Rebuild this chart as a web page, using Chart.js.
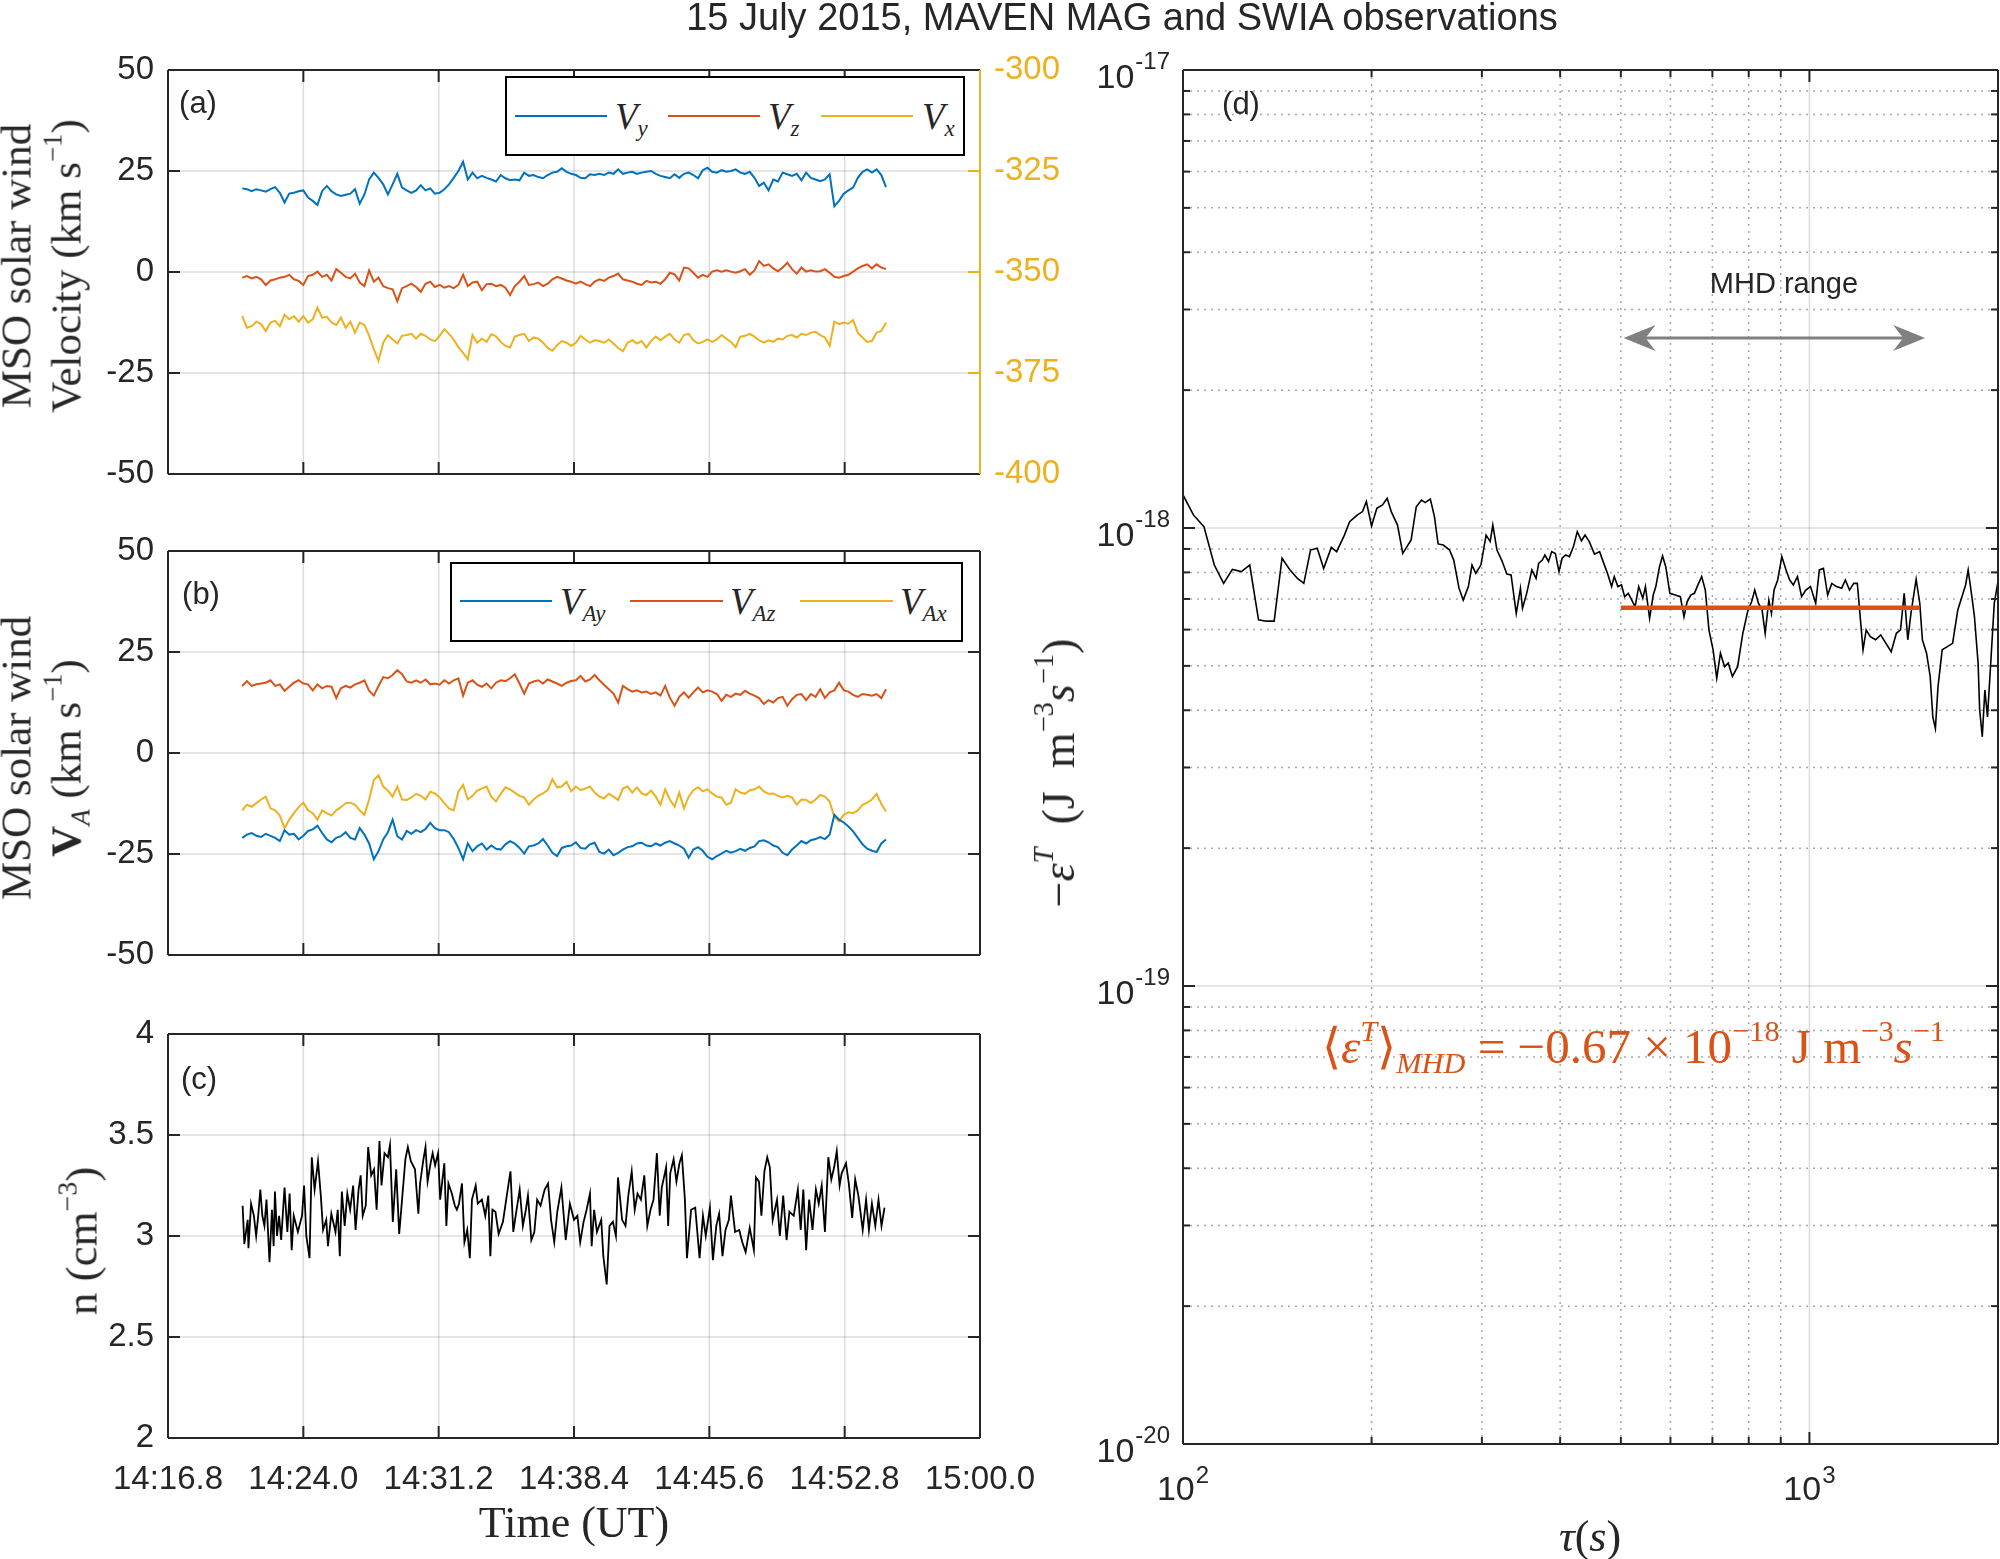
<!DOCTYPE html>
<html>
<head>
<meta charset="utf-8">
<title>15 July 2015, MAVEN MAG and SWIA observations</title>
<script src="https://cdn.jsdelivr.net/npm/chart.js@4.4.1/dist/chart.umd.min.js"></script>
<style>
  body { margin: 0; background: #fff; }
  #page { position: relative; width: 2000px; height: 1559px; overflow: hidden; background: #fff; color: #262626; }
  canvas { position: absolute; }
  .t { position: absolute; white-space: nowrap; line-height: 1; }
  .sans { font-family: "Liberation Sans", Arial, sans-serif; }
  .serif { font-family: "Liberation Serif", "Times New Roman", serif; }
  .c { transform: translate(-50%, -50%); }
  .r { transform: translate(-50%, -50%) rotate(-90deg); text-align: center; }
  .l { transform: translateY(-50%); }
  sup, sub { font-size: 0.62em; vertical-align: 0; position: relative; }
  sup { top: -0.72em; }
  sub { top: 0.32em; }
  .box { position: absolute; border: 2px solid #000; background: #fff; box-sizing: border-box; }
  .seg { position: absolute; height: 2px; }
</style>
</head>
<body>
<div id="page">
  <canvas id="velChart" width="1100" height="514" style="left:0;top:0"></canvas>
  <canvas id="alfChart" width="1100" height="485" style="left:0;top:510px"></canvas>
  <canvas id="denChart" width="1100" height="569" style="left:0;top:990px"></canvas>
  <canvas id="epsChart" width="1000" height="1559" style="left:1000px;top:0"></canvas>

  <div class="t sans c" style="left:1122px;top:17px;font-size:38px">15 July 2015, MAVEN MAG and SWIA observations</div>

  <!-- axis titles -->
  <div class="t serif r" style="left:44px;top:266px;font-size:43px;line-height:50px">MSO solar wind<br>Velocity (km s<sup>−1</sup>)</div>
  <div class="t serif r" style="left:44px;top:758px;font-size:43px;line-height:50px">MSO solar wind<br><b>V</b><sub><i>A</i></sub> (km s<sup>−1</sup>)</div>
  <div class="t serif r" style="left:82px;top:1241px;font-size:45px">n (cm<sup>−3</sup>)</div>
  <div class="t serif c" style="left:574px;top:1523px;font-size:44px">Time (UT)</div>
  <div class="t serif r" style="left:1059px;top:773px;font-size:46px">−<i>ε</i><sup><i>T</i></sup>&nbsp; (J&nbsp; m<sup>−3</sup><i>s</i><sup>−1</sup>)</div>
  <div class="t serif c" style="left:1590px;top:1537px;font-size:44px"><i>τ</i>(<i>s</i>)</div>

  <!-- panel labels -->
  <div class="t sans c" style="left:198px;top:102px;font-size:31px">(a)</div>
  <div class="t sans c" style="left:201px;top:593px;font-size:31px">(b)</div>
  <div class="t sans c" style="left:199px;top:1078px;font-size:31px">(c)</div>
  <div class="t sans c" style="left:1241px;top:103px;font-size:31px">(d)</div>

  <!-- legend (a) -->
  <div class="box" style="left:505px;top:76px;width:460px;height:80px"></div>
  <div class="seg" style="left:515px;top:115px;width:92px;background:#0072BD"></div>
  <div class="t serif l" style="left:615px;top:116px;font-size:37px"><i>V<sub>y</sub></i></div>
  <div class="seg" style="left:668px;top:115px;width:92px;background:#D95319"></div>
  <div class="t serif l" style="left:768px;top:116px;font-size:37px"><i>V<sub>z</sub></i></div>
  <div class="seg" style="left:821px;top:115px;width:92px;background:#EDB120"></div>
  <div class="t serif l" style="left:922px;top:116px;font-size:37px"><i>V<sub>x</sub></i></div>

  <!-- legend (b) -->
  <div class="box" style="left:450px;top:562px;width:513px;height:80px"></div>
  <div class="seg" style="left:460px;top:600px;width:92px;background:#0072BD"></div>
  <div class="t serif l" style="left:560px;top:601px;font-size:37px"><i>V<sub>Ay</sub></i></div>
  <div class="seg" style="left:630px;top:600px;width:93px;background:#D95319"></div>
  <div class="t serif l" style="left:730px;top:601px;font-size:37px"><i>V<sub>Az</sub></i></div>
  <div class="seg" style="left:800px;top:600px;width:93px;background:#EDB120"></div>
  <div class="t serif l" style="left:900px;top:601px;font-size:37px"><i>V<sub>Ax</sub></i></div>

  <!-- panel (d) notes -->
  <div class="t sans c" style="left:1784px;top:283px;font-size:29px">MHD range</div>
  <div class="t serif l" style="left:1322px;top:1046px;font-size:49px;color:#D95319">⟨<i>ε</i><sup><i>T</i></sup>⟩<sub><i>MHD</i></sub>&nbsp;=&nbsp;−0.67&nbsp;×&nbsp;10<sup>−18</sup>&nbsp;J&nbsp;m<sup>−3</sup><i>s</i><sup>−1</sup></div>
</div>

<script>
// (a), (b) sample times: minutes after 14:00 UT, one sample every 0.25 min
const sampleStart = 20.75;
const sampleStep = 0.25;

// time axis ticks (minutes after 14:00)
const timeTicks = [16.8, 24.0, 31.2, 38.4, 45.6, 52.8, 60.0];
const timeTickLabels = ["14:16.8", "14:24.0", "14:31.2", "14:38.4", "14:45.6", "14:52.8", "15:00.0"];
const velTicks = [-50, -25, 0, 25, 50];
const vxTicks = [-400, -375, -350, -325, -300];
const denTicks = [2, 2.5, 3, 3.5, 4];

// (a) solar wind velocity, km/s
const vy = [
  20.7, 20.5, 20.0, 20.5, 20.2, 19.9, 20.5, 21.0, 19.6, 17.2,
  19.4, 19.6, 20.0, 20.2, 18.4, 17.6, 16.6, 20.0, 21.3, 20.0,
  19.2, 18.8, 19.1, 19.4, 20.5, 16.9, 19.2, 22.9, 24.6, 23.3,
  21.7, 19.2, 21.7, 24.3, 20.9, 20.2, 19.6, 20.2, 21.5, 20.2,
  20.7, 19.4, 19.6, 20.5, 21.7, 23.3, 25.0, 27.3, 22.9, 24.6,
  23.2, 23.8, 23.3, 22.9, 22.4, 24.0, 23.2, 22.7, 22.9, 22.7,
  24.6, 23.8, 24.0, 23.5, 23.2, 24.0, 24.6, 24.8, 25.7, 24.8,
  24.3, 24.0, 23.3, 23.2, 24.2, 24.0, 24.3, 24.0, 24.6, 24.3,
  25.4, 24.3, 24.6, 24.8, 24.3, 24.6, 24.8, 25.0, 24.3, 23.8,
  23.5, 23.2, 24.2, 23.3, 24.3, 24.6, 24.0, 23.2, 25.2, 25.8,
  24.8, 24.6, 25.2, 24.8, 25.0, 25.4, 24.6, 24.3, 24.8, 23.3,
  21.3, 22.1, 20.2, 22.9, 22.4, 24.6, 24.2, 23.8, 24.3, 22.7,
  24.6, 23.3, 22.9, 22.5, 22.9, 24.2, 16.3, 17.6, 19.4, 20.2,
  20.9, 23.3, 24.8, 25.4, 24.6, 25.4, 24.0, 21.0
];
const vz = [
  -1.4, -1.0, -1.6, -1.2, -1.8, -3.2, -2.1, -1.8, -1.4, -1.2,
  -0.7, -1.8, -2.2, -3.2, -1.0, -0.7, 0.1, -1.2, -0.7, -2.1,
  0.7, -0.2, -1.2, -1.6, -0.4, -2.6, -3.5, 0.4, -2.4, -1.4,
  -3.5, -4.0, -4.3, -7.2, -4.0, -3.5, -2.9, -3.7, -4.9, -2.9,
  -2.4, -3.7, -3.2, -3.9, -3.5, -4.0, -3.2, -0.7, -3.5, -2.6,
  -2.4, -4.5, -3.0, -2.9, -3.5, -3.2, -3.9, -5.7, -3.5, -2.4,
  -1.0, -3.2, -3.0, -2.6, -3.5, -2.9, -1.8, -1.2, -1.6, -2.1,
  -2.4, -2.9, -2.4, -3.0, -3.5, -2.4, -1.8, -2.2, -1.4, -1.0,
  -0.4, -1.8, -2.1, -2.4, -2.9, -3.2, -2.2, -2.6, -2.4, -2.9,
  -1.8, -0.2, -0.6, -2.1, 1.1, 0.9, -0.2, -1.4, -0.7, -1.2,
  0.1, 0.4, 0.1, 0.4, 0.1, -0.2, 0.2, 0.7, -0.7, 0.4,
  2.7, 1.5, 1.9, 0.9, 0.2, 1.1, 2.3, 0.7, -0.4, 1.1,
  0.1, 0.4, 0.1, 0.2, 0.7, -0.2, -1.2, -1.4, -1.0, -0.7,
  0.1, 0.9, 1.5, 1.9, 0.9, 1.9, 1.1, 0.7
];
// Vx is read on the right-hand axis
const vx = [
  -360.9, -363.8, -363.4, -362.3, -362.9, -364.6, -362.5, -362.1, -363.4, -360.6,
  -361.7, -360.9, -362.3, -360.9, -362.5, -361.7, -358.8, -361.3, -361.1, -362.5,
  -363.1, -361.3, -363.8, -362.3, -365.0, -362.5, -363.1, -365.8, -369.1, -372.0,
  -367.5, -365.6, -366.7, -367.7, -365.8, -365.6, -365.3, -366.5, -365.3, -365.8,
  -366.7, -367.1, -365.8, -364.2, -365.3, -366.7, -368.6, -370.0, -371.6, -365.6,
  -367.5, -366.5, -367.3, -365.4, -365.9, -367.3, -368.3, -368.7, -366.0, -365.6,
  -365.3, -367.1, -366.2, -366.5, -367.5, -368.8, -369.5, -368.1, -367.1, -367.5,
  -368.3, -367.5, -365.8, -366.7, -367.5, -366.9, -367.1, -367.5, -366.7, -367.7,
  -368.8, -369.6, -367.5, -366.9, -367.7, -367.1, -368.7, -367.1, -366.0, -366.9,
  -366.0, -365.3, -366.7, -367.5, -365.6, -365.3, -366.9, -367.7, -367.3, -366.7,
  -367.3, -366.7, -365.6, -366.5, -367.3, -368.6, -366.0, -365.8, -365.3, -366.0,
  -366.9, -367.5, -366.9, -367.3, -366.5, -366.7, -365.8, -365.6, -366.2, -365.3,
  -365.6, -365.0, -364.8, -365.6, -366.2, -368.3, -362.3, -362.9, -362.5, -362.8,
  -361.9, -365.0, -366.2, -367.3, -367.1, -365.0, -364.6, -362.5
];

// (b) Alfven velocity, km/s
const vay = [
  -21.0, -20.2, -19.8, -20.5, -20.8, -20.0, -20.5, -21.0, -21.8, -19.1,
  -20.2, -20.0, -21.4, -20.5, -19.3, -18.9, -18.0, -19.8, -21.4, -22.1,
  -21.0, -20.6, -19.6, -21.0, -21.4, -18.6, -20.2, -22.4, -26.3, -24.3,
  -21.4, -19.6, -16.5, -20.6, -21.4, -19.3, -20.0, -19.1, -19.6, -18.8,
  -17.3, -18.6, -19.1, -19.1, -19.6, -21.3, -23.5, -26.3, -22.4, -24.3,
  -23.1, -22.4, -23.9, -22.9, -23.7, -23.9, -22.6, -21.8, -22.4, -23.5,
  -24.9, -23.1, -22.9, -22.4, -21.3, -22.9, -24.7, -25.5, -23.5, -23.1,
  -22.9, -22.1, -23.5, -23.7, -22.6, -22.2, -24.5, -24.9, -23.9, -25.3,
  -24.7, -23.9, -23.3, -23.1, -22.4, -22.2, -22.9, -23.1, -22.4, -22.9,
  -22.2, -21.8, -22.4, -22.9, -23.7, -25.9, -23.9, -23.3, -24.2, -25.7,
  -26.3, -25.5, -24.9, -24.2, -24.7, -24.3, -23.7, -24.2, -23.5, -23.1,
  -21.8, -21.6, -22.1, -22.9, -23.3, -24.7, -25.3, -23.9, -22.9, -21.8,
  -22.4, -21.6, -21.3, -20.8, -21.3, -20.2, -15.3, -16.5, -17.2, -18.2,
  -19.4, -21.0, -22.6, -23.7, -24.2, -24.5, -22.4, -21.4
];
const vaz = [
  16.6, 17.8, 16.6, 17.0, 17.2, 17.4, 18.0, 16.6, 17.0, 15.4,
  16.4, 17.4, 18.0, 17.2, 17.0, 15.5, 17.0, 16.0, 16.6, 16.4,
  13.6, 16.0, 16.6, 16.2, 17.0, 17.4, 18.0, 15.4, 14.2, 16.6,
  18.8, 18.5, 19.3, 20.5, 19.5, 17.7, 17.4, 18.0, 17.4, 18.2,
  17.0, 17.2, 16.9, 18.0, 17.2, 18.0, 18.5, 14.2, 17.4, 18.0,
  16.9, 16.4, 17.2, 16.0, 17.4, 18.0, 17.8, 18.5, 19.5, 17.2,
  14.7, 17.2, 17.7, 18.0, 17.2, 18.2, 17.7, 17.2, 16.6, 17.4,
  17.8, 18.0, 19.1, 17.7, 18.2, 19.3, 18.0, 16.9, 15.8, 14.7,
  12.5, 16.6, 15.8, 15.2, 15.5, 15.0, 15.2, 14.6, 15.0, 14.2,
  16.6, 13.7, 11.7, 13.9, 15.0, 13.7, 15.0, 16.2, 15.0, 15.5,
  15.2, 14.6, 12.9, 14.4, 13.9, 14.7, 14.4, 15.4, 14.7, 14.2,
  13.6, 12.1, 13.1, 12.5, 13.6, 13.9, 11.7, 13.3, 14.4, 14.6,
  13.1, 14.6, 13.9, 15.8, 13.6, 15.0, 15.5, 17.4, 15.5, 15.2,
  14.4, 13.9, 14.6, 14.4, 14.2, 14.6, 13.6, 15.8
];
const vax = [
  -14.2, -12.8, -13.3, -12.4, -11.5, -10.8, -13.7, -14.2, -15.5, -18.6,
  -16.5, -14.9, -13.4, -12.3, -14.2, -14.9, -16.5, -14.2, -14.9, -15.5,
  -14.2, -13.4, -12.4, -12.3, -12.8, -14.2, -15.3, -11.5, -6.7, -5.5,
  -8.3, -9.3, -10.8, -8.3, -11.5, -11.6, -11.0, -10.1, -10.6, -11.5,
  -9.6, -10.0, -11.0, -12.4, -13.7, -14.2, -9.6, -7.9, -11.5, -10.6,
  -9.3, -8.8, -8.3, -10.8, -12.0, -10.1, -8.5, -9.0, -9.8, -10.6,
  -11.0, -12.8, -11.5, -10.6, -10.0, -9.2, -6.5, -8.5, -8.3, -7.1,
  -9.5, -8.3, -9.2, -8.8, -8.3, -9.8, -10.8, -11.2, -10.1, -10.8,
  -11.6, -8.8, -8.3, -9.8, -8.5, -10.0, -10.4, -9.3, -10.8, -12.8,
  -9.0, -11.5, -13.3, -9.8, -13.7, -10.8, -9.2, -8.5, -9.5, -9.0,
  -10.0, -10.8, -11.0, -12.8, -12.3, -9.0, -9.8, -10.1, -9.2, -9.0,
  -8.3, -9.5, -10.1, -10.0, -10.6, -11.0, -10.6, -11.0, -12.8, -11.5,
  -11.6, -12.4, -11.5, -10.4, -10.8, -12.0, -15.9, -16.9, -15.3, -14.7,
  -14.9, -14.2, -12.8, -12.3, -11.5, -10.1, -12.6, -14.5
];

// (c) density: time (minutes after 14:00) and n (cm^-3)
const denTime = [
  20.77, 20.86, 21.04, 21.08, 21.22, 21.37, 21.49, 21.60, 21.71, 21.82,
  21.93, 22.04, 22.20, 22.33, 22.42, 22.49, 22.60, 22.71, 22.82, 23.00,
  23.15, 23.27, 23.38, 23.49, 23.71, 23.93, 24.04, 24.16, 24.33, 24.45,
  24.60, 24.78, 24.93, 25.05, 25.22, 25.31, 25.49, 25.71, 25.83, 25.94,
  26.05, 26.20, 26.34, 26.49, 26.65, 26.78, 26.94, 27.05, 27.16, 27.32,
  27.45, 27.61, 27.76, 27.90, 28.05, 28.16, 28.32, 28.50, 28.61, 28.76,
  28.94, 29.10, 29.27, 29.43, 29.56, 29.72, 29.94, 30.12, 30.21, 30.39,
  30.50, 30.61, 30.77, 30.88, 31.01, 31.17, 31.28, 31.50, 31.61, 31.72,
  31.90, 32.06, 32.17, 32.28, 32.44, 32.57, 32.72, 32.86, 32.97, 33.17,
  33.28, 33.50, 33.68, 33.84, 33.95, 34.06, 34.22, 34.39, 34.62, 34.84,
  35.02, 35.17, 35.28, 35.51, 35.68, 35.84, 35.95, 36.13, 36.29, 36.44,
  36.62, 36.84, 37.02, 37.18, 37.35, 37.51, 37.73, 37.96, 38.18, 38.40,
  38.58, 38.73, 38.91, 39.07, 39.25, 39.34, 39.47, 39.62, 39.85, 39.96,
  40.14, 40.29, 40.47, 40.63, 40.74, 40.96, 41.14, 41.29, 41.47, 41.63,
  41.78, 41.96, 42.14, 42.30, 42.47, 42.63, 42.81, 42.96, 43.07, 43.30,
  43.41, 43.52, 43.70, 43.85, 44.01, 44.14, 44.30, 44.41, 44.63, 44.85,
  45.08, 45.26, 45.41, 45.63, 45.79, 45.97, 46.12, 46.30, 46.46, 46.64,
  46.75, 46.97, 47.19, 47.35, 47.53, 47.75, 47.97, 48.08, 48.24, 48.37,
  48.53, 48.68, 48.82, 48.97, 49.20, 49.35, 49.53, 49.71, 49.86, 50.09,
  50.31, 50.46, 50.60, 50.75, 50.91, 51.09, 51.27, 51.42, 51.58, 51.75,
  51.93, 52.09, 52.24, 52.38, 52.53, 52.64, 52.87, 53.02, 53.20, 53.36,
  53.53, 53.76, 53.94, 54.09, 54.25, 54.43, 54.60, 54.76, 54.92
];
const density = [
  3.15, 2.96, 3.08, 2.94, 3.16, 3.10, 3.00, 3.10, 3.23, 3.10,
  3.05, 3.18, 2.87, 3.13, 2.95, 3.22, 3.00, 3.10, 2.98, 3.24,
  3.02, 3.21, 2.93, 3.10, 3.02, 3.10, 3.25, 3.00, 2.89, 3.39,
  3.23, 3.37, 3.20, 3.03, 3.08, 2.95, 3.11, 3.02, 3.13, 2.90,
  3.22, 3.05, 3.21, 3.13, 3.25, 3.03, 3.23, 3.30, 3.10, 3.15,
  3.44, 3.30, 3.33, 3.13, 3.47, 3.25, 3.41, 3.39, 3.45, 3.07,
  3.33, 3.01, 3.20, 3.38, 3.44, 3.37, 3.33, 3.11, 3.26, 3.38,
  3.44, 3.27, 3.36, 3.41, 3.35, 3.41, 3.18, 3.36, 3.05, 3.26,
  3.21, 3.15, 3.13, 3.16, 3.26, 2.97, 3.03, 2.89, 3.18, 3.25,
  3.16, 3.18, 3.10, 3.20, 2.90, 3.13, 3.12, 3.01, 3.07, 3.21,
  3.32, 3.02, 3.09, 3.23, 3.05, 3.13, 3.20, 2.98, 3.02, 3.18,
  3.15, 3.23, 3.26, 3.08, 2.97, 3.12, 3.24, 2.98, 3.16, 3.08,
  3.10, 2.97, 3.07, 3.13, 3.21, 2.95, 3.13, 3.02, 3.08, 2.90,
  2.76, 3.05, 3.07, 3.00, 3.29, 3.08, 3.05, 3.20, 3.32, 3.13,
  3.21, 3.18, 3.30, 3.05, 3.13, 3.18, 3.41, 3.10, 3.24, 3.34,
  3.05, 3.31, 3.38, 3.27, 3.36, 3.40, 3.18, 2.89, 3.13, 3.14,
  2.89, 3.10, 3.00, 3.14, 2.88, 3.05, 3.11, 2.90, 3.03, 3.08,
  3.20, 3.02, 3.03, 2.97, 2.92, 3.04, 2.93, 3.29, 3.27, 3.10,
  3.32, 3.39, 3.34, 3.08, 3.18, 3.00, 3.20, 2.98, 3.12, 3.10,
  3.23, 3.03, 3.23, 2.93, 3.18, 3.03, 3.23, 3.16, 3.25, 3.02,
  3.39, 3.28, 3.34, 3.42, 3.25, 3.31, 3.36, 3.26, 3.09, 3.28,
  3.20, 3.03, 3.18, 3.03, 3.16, 3.05, 3.18, 3.05, 3.14
];

// (d) energy cascade rate vs time lag
const epsTau = [
  100, 103.9, 108.0, 112.2, 116.1, 119.9, 123.9, 127.8, 132.0, 135.8,
  139.8, 143.9, 148.0, 152.3, 155.9, 159.8, 163.8, 167.7, 172.5, 175.9,
  181.0, 184.5, 189.9, 193.5, 196.2, 200.0, 203.9, 208.2, 211.8, 215.0,
  220.0, 224.3, 231.3, 235.7, 240.3, 243.5, 248.2, 252.0, 255.4, 260.3,
  266.4, 270.5, 275.8, 280.1, 285.5, 289.3, 293.3, 298.9, 304.7, 309.3,
  312.3, 317.1, 322.6, 328.9, 334.0, 340.4, 345.7, 348.3, 353.7, 360.5,
  366.1, 369.6, 374.6, 378.2, 383.3, 387.8, 393.0, 398.3, 402.9, 408.3,
  413.9, 420.3, 426.0, 432.6, 438.4, 445.2, 453.8, 462.4, 469.6, 476.0,
  483.3, 488.0, 494.6, 501.2, 507.0, 513.8, 518.8, 526.8, 533.9, 542.0,
  547.3, 555.7, 563.2, 568.6, 576.3, 582.9, 589.7, 598.8, 610.4, 622.2,
  630.6, 637.9, 646.5, 655.2, 665.3, 673.0, 682.0, 691.2, 701.8, 711.3,
  721.0, 732.1, 742.0, 753.4, 768.0, 782.8, 797.9, 808.6, 818.0, 829.0,
  840.3, 849.9, 861.4, 869.7, 878.1, 889.9, 903.6, 917.6, 929.9, 942.4,
  957.0, 971.6, 986.7, 1003.9, 1023.3, 1037.1, 1052.9, 1069.3, 1085.7, 1104.6,
  1125.9, 1141.2, 1158.8, 1176.7, 1192.5, 1203.9, 1217.8, 1232.0, 1251.0, 1275.2,
  1299.8, 1324.9, 1350.5, 1376.5, 1397.8, 1416.6, 1435.6, 1452.3, 1480.3, 1500.2,
  1514.7, 1538.0, 1558.8, 1573.7, 1588.9, 1604.1, 1629.0, 1660.4, 1692.5, 1725.2,
  1751.8, 1775.4, 1792.3, 1816.8, 1834.2, 1858.9, 1869.6, 1887.7, 1905.8, 1924.2,
  1950.1, 1972.7, 1999.3
];
// -eps^T in units of 1e-18 J m^-3 s^-1
const epsVal = [
  1.181, 1.068, 1.007, 0.830, 0.757, 0.812, 0.803, 0.830, 0.630, 0.626,
  0.626, 0.859, 0.812, 0.776, 0.757, 0.895, 0.903, 0.816, 0.907, 0.888,
  0.965, 1.032, 1.068, 1.086, 1.142, 1.010, 1.104, 1.123, 1.161, 1.086,
  1.015, 0.880, 0.942, 1.113, 1.151, 1.136, 1.157, 1.059, 0.923, 0.918,
  0.895, 0.851, 0.739, 0.696, 0.745, 0.830, 0.796, 0.830, 0.965, 0.934,
  1.015, 0.895, 0.851, 0.793, 0.790, 0.651, 0.739, 0.668, 0.720, 0.810,
  0.776, 0.837, 0.851, 0.873, 0.845, 0.888, 0.880, 0.803, 0.859, 0.873,
  0.866, 0.913, 0.982, 0.938, 0.965, 0.934, 0.877, 0.888, 0.837, 0.796,
  0.745, 0.783, 0.745, 0.751, 0.708, 0.720, 0.702, 0.673, 0.745, 0.702,
  0.745, 0.635, 0.714, 0.745, 0.823, 0.869, 0.823, 0.720, 0.714, 0.708,
  0.640, 0.690, 0.714, 0.720, 0.757, 0.783, 0.732, 0.599, 0.542, 0.470,
  0.533, 0.498, 0.507, 0.474, 0.498, 0.589, 0.662, 0.690, 0.732, 0.685,
  0.662, 0.589, 0.696, 0.651, 0.732, 0.770, 0.866, 0.810, 0.770, 0.751,
  0.783, 0.708, 0.732, 0.745, 0.685, 0.810, 0.816, 0.714, 0.757, 0.745,
  0.739, 0.770, 0.732, 0.757, 0.757, 0.651, 0.542, 0.599, 0.579, 0.570,
  0.584, 0.560, 0.537, 0.589, 0.599, 0.720, 0.570, 0.651, 0.773, 0.685,
  0.570, 0.533, 0.474, 0.387, 0.365, 0.450, 0.542, 0.551, 0.560, 0.662,
  0.708, 0.751, 0.810, 0.708, 0.640, 0.507, 0.401, 0.350, 0.443, 0.387,
  0.524, 0.685, 0.763
];
const mhdRange = [500, 1500];       // tau (s) of the MHD average
const mhdMean = 0.67e-18;           // <eps^T>_MHD magnitude
const mhdArrowTau = [505, 1530];    // "MHD range" arrow ends
const mhdArrowLevel = 2.6e-18;
const tauMajor = [100, 1000];
const tauMinor = [200, 300, 400, 500, 600, 700, 800, 900];
const epsMajor = [1e-20, 1e-19, 1e-18, 1e-17];

const INK = "#262626";
const BLUE = "#0072BD", RED = "#D95319", YELLOW = "#EDB120";
const SANS = "'Liberation Sans', Arial, sans-serif";
const TICK_FONT = { family: SANS, size: 33 };

const epsMinor = [];
[-20, -19, -18].forEach((e) => {
  for (let m = 2; m <= 9; m++) epsMinor.push(m * Math.pow(10, e));
});

const timeSeries = (vals) => vals.map((v, i) => ({ x: sampleStart + i * sampleStep, y: v }));

// gridlines, inward ticks and the axes box, drawn the MATLAB way
const framePlugin = {
  id: "frame",
  beforeDatasetsDraw(chart, args, o) {
    const { ctx, chartArea: a, scales } = chart;
    ctx.save();
    ctx.beginPath();
    ctx.rect(a.left, a.top, a.right - a.left, a.bottom - a.top);
    ctx.clip();
    ctx.lineWidth = 1.5;
    const vline = (v) => {
      const x = scales.x.getPixelForValue(v);
      ctx.beginPath(); ctx.moveTo(x, a.top); ctx.lineTo(x, a.bottom); ctx.stroke();
    };
    const hline = (v) => {
      const y = scales.y.getPixelForValue(v);
      ctx.beginPath(); ctx.moveTo(a.left, y); ctx.lineTo(a.right, y); ctx.stroke();
    };
    ctx.setLineDash([2, 5]);
    ctx.strokeStyle = "rgba(38,38,38,0.4)";
    (o.xMinor || []).forEach(vline);
    (o.yMinor || []).forEach(hline);
    ctx.setLineDash([]);
    ctx.strokeStyle = "rgba(38,38,38,0.16)";
    (o.xMajor || []).forEach(vline);
    (o.yMajor || []).forEach(hline);
    ctx.restore();
  },
  afterDatasetsDraw(chart, args, o) {
    const { ctx, chartArea: a, scales } = chart;
    const right = o.rightColor || INK;
    ctx.save();
    ctx.lineWidth = 2;
    const seg = (x1, y1, x2, y2, c) => {
      ctx.strokeStyle = c;
      ctx.beginPath(); ctx.moveTo(x1, y1); ctx.lineTo(x2, y2); ctx.stroke();
    };
    const xt = (len) => (v) => {
      const x = scales.x.getPixelForValue(v);
      seg(x, a.bottom, x, a.bottom - len, INK);
      seg(x, a.top, x, a.top + len, INK);
    };
    const yt = (len) => (v) => {
      const y = scales.y.getPixelForValue(v);
      seg(a.left, y, a.left + len, y, INK);
      seg(a.right, y, a.right - len, y, right);
    };
    (o.xMajor || []).forEach(xt(12));
    (o.yMajor || []).forEach(yt(12));
    (o.xMinor || []).forEach(xt(7));
    (o.yMinor || []).forEach(yt(7));
    seg(a.left, a.top, a.right, a.top, INK);
    seg(a.left, a.bottom, a.right, a.bottom, INK);
    seg(a.left, a.top, a.left, a.bottom, INK);
    seg(a.right, a.top, a.right, a.bottom, right);
    ctx.restore();
  }
};
Chart.register(framePlugin);

const baseOptions = {
  responsive: false,
  animation: false,
  devicePixelRatio: 1,
  elements: { point: { radius: 0 }, line: { borderWidth: 2, tension: 0 } }
};

function linearAxis(extra) {
  return Object.assign({
    type: "linear",
    grid: { display: false, drawTicks: false },
    border: { display: false }
  }, extra);
}

function timeAxis(height, showLabels) {
  return linearAxis({
    min: 16.8, max: 60,
    afterBuildTicks: (s) => { s.ticks = timeTicks.map((v) => ({ value: v })); },
    ticks: {
      display: showLabels, autoSkip: false, maxRotation: 0, padding: 22,
      font: TICK_FONT, color: INK,
      callback: (v, i) => timeTickLabels[i]
    },
    afterFit: (s) => { s.height = height; }
  });
}

function valueAxis(tickVals, min, max, width, color, position) {
  return linearAxis({
    position: position || "left",
    min: min, max: max,
    afterBuildTicks: (s) => { s.ticks = tickVals.map((v) => ({ value: v })); },
    ticks: { font: TICK_FONT, color: color || INK, padding: 14, callback: (v) => String(v) },
    afterFit: (s) => { s.width = width; }
  });
}

// (a) velocity
new Chart(document.getElementById("velChart"), {
  type: "line",
  data: {
    datasets: [
      { label: "Vy", data: timeSeries(vy), borderColor: BLUE, yAxisID: "y" },
      { label: "Vz", data: timeSeries(vz), borderColor: RED, yAxisID: "y" },
      { label: "Vx", data: timeSeries(vx), borderColor: YELLOW, yAxisID: "y2" }
    ]
  },
  options: Object.assign({}, baseOptions, {
    layout: { padding: { top: 70, left: 0, right: 0, bottom: 0 } },
    scales: {
      x: timeAxis(40, false),
      y: valueAxis(velTicks, -50, 50, 168),
      y2: valueAxis(vxTicks, -400, -300, 120, YELLOW, "right")
    },
    plugins: {
      legend: { display: false }, tooltip: { enabled: false },
      frame: { xMajor: timeTicks, yMajor: velTicks, rightColor: YELLOW }
    }
  })
});

// (b) Alfven velocity
new Chart(document.getElementById("alfChart"), {
  type: "line",
  data: {
    datasets: [
      { label: "VAy", data: timeSeries(vay), borderColor: BLUE },
      { label: "VAz", data: timeSeries(vaz), borderColor: RED },
      { label: "VAx", data: timeSeries(vax), borderColor: YELLOW }
    ]
  },
  options: Object.assign({}, baseOptions, {
    layout: { padding: { top: 41, left: 0, right: 120, bottom: 0 } },
    scales: {
      x: timeAxis(40, false),
      y: valueAxis(velTicks, -50, 50, 168)
    },
    plugins: {
      legend: { display: false }, tooltip: { enabled: false },
      frame: { xMajor: timeTicks, yMajor: velTicks }
    }
  })
});

// (c) density
new Chart(document.getElementById("denChart"), {
  type: "line",
  data: {
    datasets: [
      {
        label: "n",
        data: denTime.map((t, i) => ({ x: t, y: density[i] })),
        borderColor: "#000000", borderWidth: 1.8
      }
    ]
  },
  options: Object.assign({}, baseOptions, {
    layout: { padding: { top: 44, left: 0, right: 120, bottom: 0 } },
    scales: {
      x: timeAxis(121, true),
      y: valueAxis(denTicks, 2, 4, 168)
    },
    plugins: {
      legend: { display: false }, tooltip: { enabled: false },
      frame: { xMajor: timeTicks, yMajor: denTicks }
    }
  })
});

// (d) tick labels as 10^n and the MHD range arrow
const powerLabels = {
  id: "powerLabels",
  afterDraw(chart) {
    const { ctx, chartArea: a, scales } = chart;
    const exp = (v) => String(Math.round(Math.log10(v)));
    ctx.save();
    ctx.fillStyle = INK;
    ctx.textBaseline = "middle";
    ctx.textAlign = "left";
    epsMajor.forEach((v) => {
      const y = scales.y.getPixelForValue(v);
      const e = exp(v);
      ctx.font = "24px " + SANS;
      const we = ctx.measureText(e).width;
      ctx.fillText(e, a.left - 13 - we, y - 8);
      ctx.font = "34px " + SANS;
      const wb = ctx.measureText("10").width;
      ctx.fillText("10", a.left - 13 - we - wb - 1, y + 9);
    });
    tauMajor.forEach((v) => {
      const x = scales.x.getPixelForValue(v);
      const e = exp(v);
      ctx.font = "34px " + SANS;
      const wb = ctx.measureText("10").width;
      ctx.font = "24px " + SANS;
      const we = ctx.measureText(e).width;
      const x0 = x - (wb + we + 1) / 2;
      ctx.fillText(e, x0 + wb + 1, a.bottom + 32);
      ctx.font = "34px " + SANS;
      ctx.fillText("10", x0, a.bottom + 47);
    });
    ctx.restore();
  }
};

const rangeArrow = {
  id: "rangeArrow",
  afterDatasetsDraw(chart) {
    const { ctx, scales } = chart;
    const x1 = scales.x.getPixelForValue(mhdArrowTau[0]);
    const x2 = scales.x.getPixelForValue(mhdArrowTau[1]);
    const y = scales.y.getPixelForValue(mhdArrowLevel);
    ctx.save();
    ctx.strokeStyle = "#808080";
    ctx.fillStyle = "#808080";
    ctx.lineWidth = 3;
    ctx.beginPath(); ctx.moveTo(x1 + 20, y); ctx.lineTo(x2 - 20, y); ctx.stroke();
    [[x1, 1], [x2, -1]].forEach(([x, d]) => {
      ctx.beginPath();
      ctx.moveTo(x, y);
      ctx.lineTo(x + d * 32, y - 13);
      ctx.lineTo(x + d * 22, y);
      ctx.lineTo(x + d * 32, y + 13);
      ctx.closePath();
      ctx.fill();
    });
    ctx.restore();
  }
};

new Chart(document.getElementById("epsChart"), {
  type: "line",
  data: {
    datasets: [
      {
        label: "MHD mean",
        data: mhdRange.map((t) => ({ x: t, y: mhdMean })),
        borderColor: RED, borderWidth: 4.5
      },
      {
        label: "-eps^T",
        data: epsTau.map((t, i) => ({ x: t, y: epsVal[i] * 1e-18 })),
        borderColor: "#000000", borderWidth: 1.6
      }
    ]
  },
  options: Object.assign({}, baseOptions, {
    layout: { padding: { top: 70, left: 0, right: 2, bottom: 0 } },
    scales: {
      x: {
        type: "logarithmic", min: 100, max: 2000,
        grid: { display: false, drawTicks: false }, border: { display: false },
        ticks: { display: false },
        afterFit: (s) => { s.height = 115; }
      },
      y: {
        type: "logarithmic", min: 1e-20, max: 1e-17,
        grid: { display: false, drawTicks: false }, border: { display: false },
        ticks: { display: false },
        afterFit: (s) => { s.width = 183; }
      }
    },
    plugins: {
      legend: { display: false }, tooltip: { enabled: false },
      frame: { xMajor: tauMajor, xMinor: tauMinor, yMajor: epsMajor, yMinor: epsMinor }
    }
  }),
  plugins: [powerLabels, rangeArrow]
});
</script>
</body>
</html>
